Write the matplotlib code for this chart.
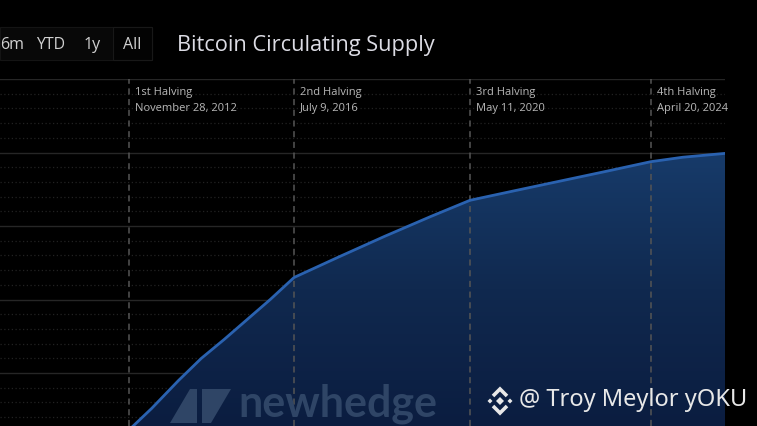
import numpy as np
import pandas as pd
import matplotlib
matplotlib.use('Agg')
import matplotlib.pyplot as plt
import matplotlib.dates as mdates
from matplotlib.patches import Polygon, Rectangle
from matplotlib.lines import Line2D
from matplotlib.colors import LinearSegmentedColormap

# data (circulating supply, millions of BTC)
dates = ['2012-11-28', '2013-06-01', '2014-01-01', '2014-07-01', '2015-01-01',
         '2015-07-01', '2016-01-01', '2016-07-09', '2017-07-01', '2018-07-01',
         '2019-07-01', '2020-05-11', '2021-05-01', '2022-05-01', '2023-05-01',
         '2024-04-20', '2025-01-01', '2025-12-03']
supply = [10.55, 11.30, 12.25, 13.00, 13.65, 14.32, 15.00, 15.75, 16.45, 17.15,
          17.82, 18.375, 18.70, 19.03, 19.36, 19.6875, 19.84, 19.97]

halving_dates = ['2012-11-28', '2016-07-09', '2020-05-11', '2024-04-20']
halving_names = ['1st Halving', '2nd Halving', '3rd Halving', '4th Halving']
halving_labels = ['November 28, 2012', 'July 9, 2016', 'May 11, 2020', 'April 20, 2024']

buttons = ['6m', 'YTD', '1y', 'All']

W, H = 757, 426
fig = plt.figure(figsize=(W / 100, H / 100), dpi=100)
fig.patch.set_facecolor('black')

ax = fig.add_axes([0, 0, 725 / W, 1 - 79 / H])
ax.set_facecolor('black')
for s in ax.spines.values():
    s.set_visible(False)
ax.tick_params(left=False, bottom=False, labelleft=False, labelbottom=False)

x = pd.to_datetime(dates)
xn = mdates.date2num(x)
y = np.array(supply)

x_left = mdates.date2num(pd.Timestamp('2010-02-08'))
x_right = xn[-1]
ylo, yhi = 10.7, 22.5
ax.set_xlim(x_left, x_right)
ax.set_ylim(ylo, yhi)

# grid lines
for v in np.arange(10.5, 22.51, 0.5):
    if abs(v / 2.5 - round(v / 2.5)) < 1e-6:
        ax.axhline(v, color='#262626', lw=1.0, zorder=1)
    else:
        ax.axhline(v, color='#222222', lw=0.9, ls=(0, (1, 2)), zorder=1)

# gradient fill under the curve
cmap = LinearSegmentedColormap.from_list('fill', ['#0b1d40', '#10294f', '#173b6a'])
grad = np.linspace(0, 1, 256).reshape(-1, 1)
im = ax.imshow(grad, cmap=cmap, aspect='auto', origin='lower',
               extent=[x_left, x_right, ylo, 20.0], zorder=2)
poly = np.column_stack([np.r_[xn[0], xn, xn[-1]], np.r_[ylo - 1, y, ylo - 1]])
clip = Polygon(poly, closed=True, transform=ax.transData, facecolor='none', edgecolor='none')
ax.add_patch(clip)
im.set_clip_path(clip)

ax.plot(xn, y, color='#2a62b0', lw=2.0, zorder=4, solid_joinstyle='round')

# halving lines and labels
for d, n, lab in zip(halving_dates, halving_names, halving_labels):
    dn = mdates.date2num(pd.Timestamp(d))
    ax.axvline(dn, color='#555555', lw=1.1, ls=(0, (4, 3)), zorder=3)
    ax.annotate(n, (dn, yhi), xytext=(4.5, -10), textcoords='offset points',
                color='#b8b8b8', fontsize=8, family='Open Sans', va='center')
    ax.annotate(lab, (dn, yhi), xytext=(4.5, -21.5), textcoords='offset points',
                color='#b8b8b8', fontsize=8, family='Open Sans', va='center')

# top bar: range buttons and title
fig.patches.append(Rectangle((0, 1 - 60 / H), 152 / W, 33 / H, transform=fig.transFigure,
                             facecolor='#080808', edgecolor='#141414', lw=0.8))
fig.patches.append(Rectangle((113 / W, 1 - 60 / H), 39 / W, 33 / H, transform=fig.transFigure,
                             facecolor='#030303', edgecolor='#181818', lw=0.8))
for b, bx in zip(buttons, [12, 51, 92, 132]):
    fig.text(bx / W, 1 - 45 / H, b, color='#d0d0d0', fontsize=11.5, family='Open Sans',
             ha='center', va='center')
fig.text(177 / W, 1 - 45 / H, 'Bitcoin Circulating Supply', color='#dcdce4',
         fontsize=15.7, family='Open Sans', ha='left', va='center')

# newhedge watermark
logo1 = [(170, 423), (190, 389), (197, 389), (197, 423)]
logo2 = [(202, 389), (231, 389), (211, 423), (202, 423)]
for pts in (logo1, logo2):
    fig.patches.append(Polygon([(px / W, 1 - py / H) for px, py in pts], closed=True,
                               transform=fig.transFigure, facecolor='#2f4566',
                               edgecolor='none', zorder=5))
fig.text(238 / W, 1 - 404 / H, 'newhedge', color='#2f4566', fontsize=31,
         family='Lato', weight='bold', ha='left', va='center')

# account watermark: diamond icon
def fpt(px, py):
    return px / W, 1 - py / H

ic = '#e8e8e8'
cx, cy = 500, 401
for px, py, s in [(cx, cy, 4), (cx - 10, cy, 2.5), (cx + 10, cy, 2.5)]:
    fig.patches.append(Polygon([fpt(px - s, py), fpt(px, py - s), fpt(px + s, py), fpt(px, py + s)],
                               closed=True, transform=fig.transFigure, facecolor=ic,
                               edgecolor='none', zorder=6))
for sgn in (-1, 1):
    xs, ys = zip(fpt(cx - 7, cy + sgn * 5), fpt(cx, cy + sgn * 12), fpt(cx + 7, cy + sgn * 5))
    fig.lines.append(Line2D(xs, ys, transform=fig.transFigure, color=ic, lw=2.6,
                            solid_joinstyle='miter', solid_capstyle='butt', zorder=6))
fig.text(519 / W, 1 - 400 / H, '@ Troy Meylor yOKU', color='#e8e8e8', fontsize=17,
         family='Noto Sans', ha='left', va='center')

plt.savefig('out.png', dpi=100, facecolor=fig.get_facecolor())
